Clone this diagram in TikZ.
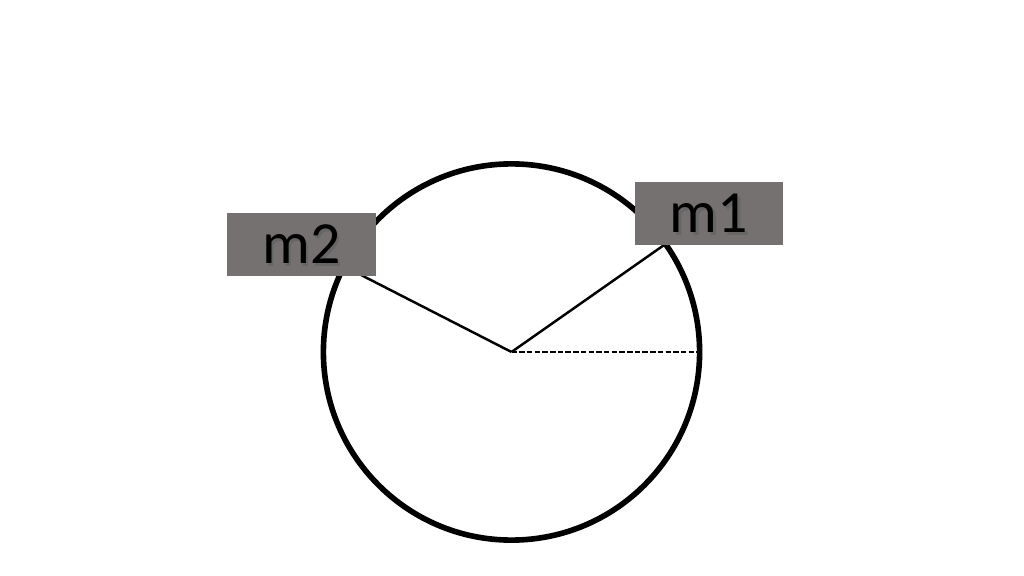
\documentclass[tikz,border=0pt]{standalone}
\usepackage{fontspec}
\setmainfont{Carlito}
\usetikzlibrary{backgrounds}
\definecolor{boxgray}{HTML}{767171}
\begin{document}
\begin{tikzpicture}[x=0.01cm,y=-0.01cm,
  label box/.style={fill=boxgray, draw=none, minimum width=1.48cm, minimum height=0.63cm, inner sep=0pt},
  label text/.style={font=\fontsize{17}{17}\selectfont, inner sep=0pt},
  arm/.style={line width=0.7pt, black},
  rim/.style={line width=1.6pt, black},
  refline/.style={line width=0.4pt, dash pattern=on 0.055cm off 0.022cm}]
\useasboundingbox (0,0) rectangle (1024,576);
\coordinate (c) at (511.5,352);
\draw[rim] (c) circle[radius=1.88cm];
\coordinate (r) at (699.5,352);
\draw[refline] (c) -- (r);
\node[label box] (m1) at (709,213.5) {};
\node[label box] (m2) at (301.5,244.5) {};
\node[label text, text=black!60] at ([xshift=0.025cm,yshift=-0.025cm]m1.center) {m1};
\node[label text, text=black] (t1) at (m1.center) {m1};
\node[label text, text=black!60] at ([xshift=0.025cm,yshift=-0.025cm]m2.center) {m2};
\node[label text, text=black] (t2) at (m2.center) {m2};
\begin{scope}[on background layer]
\draw[arm] (c) -- (m1.center);
\draw[arm] (c) -- (m2.center);
\end{scope}
\end{tikzpicture}
\end{document}
